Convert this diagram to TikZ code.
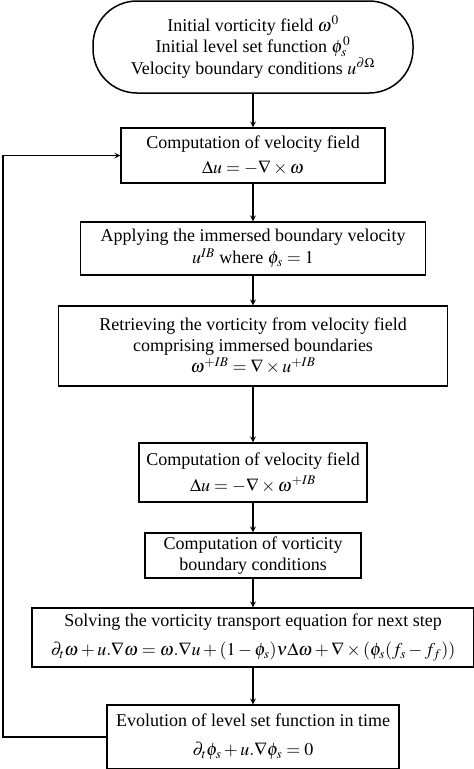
\documentclass[tikz,border=0pt]{standalone}
\usepackage{amsmath}
\usepackage{mathptmx}
\usepackage{fontspec}
\setmainfont{Liberation Serif}

\begin{document}
\begin{tikzpicture}[x=1pt,y=1pt,
    box/.style={draw,line width=1.5pt,align=center,inner sep=0pt,font=\fontsize{18}{21}\selectfont},
    start/.style={box,rounded corners=44pt},
    flow/.style={->,>=stealth,line width=1.5pt}]
    \useasboundingbox (0,0) rectangle (474,-769);
    \node[start,minimum width=320,minimum height=92] (init) at (253,-47) {Initial vorticity field $\omega^{0}$\\ Initial level set function $\phi_s^{0}$\\ Velocity boundary conditions $u^{\partial\Omega}$};
    \node[box,minimum width=264,minimum height=55] (comp1) at (253,-155.5) {Computation of velocity field\\[4pt] $\Delta u=-\nabla\times\omega$};
    \node[box,minimum width=345,minimum height=53] (apply) at (253,-248.5) {Applying the immersed boundary velocity\\[1pt] $u^{IB}$ where $\phi_s=1$};
    \node[box,minimum width=389,minimum height=80] (retr) at (253,-346) {Retrieving the vorticity from velocity field\\ comprising immersed boundaries\\ $\omega^{+IB}=\nabla\times u^{+IB}$};
    \node[box,minimum width=228,minimum height=59] (comp2) at (253,-472.5) {Computation of velocity field\\[5pt] $\Delta u=-\nabla\times\omega^{+IB}$};
    \node[box,minimum width=216,minimum height=45] (vort) at (253,-555.5) {Computation of vorticity\\ boundary conditions};
    \node[box,minimum width=442,minimum height=59] (solve) at (253,-637.5) {Solving the vorticity transport equation for next step\\[8pt] $\partial_t\omega+u.\nabla\omega=\omega.\nabla u+(1-\phi_s)\nu\Delta\omega+\nabla\times(\phi_s(f_s-f_f))$};
    \node[box,minimum width=292,minimum height=64] (evol) at (253,-737) {Evolution of level set function in time\\[8pt] $\partial_t\phi_s+u.\nabla\phi_s=0$};
    \coordinate (corner) at (3,-737);
    \draw[flow] (init.south)--(comp1.north);
    \draw[flow] (comp1.south)--(apply.north);
    \draw[flow] (apply.south)--(retr.north);
    \draw[flow] (retr.south)--(comp2.north);
    \draw[flow] (comp2.south)--(vort.north);
    \draw[flow] (vort.south)--(solve.north);
    \draw[flow] (solve.south)--(evol.north);
    \draw[flow] (evol.west)--(corner)|-(comp1.west);
\end{tikzpicture}
\end{document}
